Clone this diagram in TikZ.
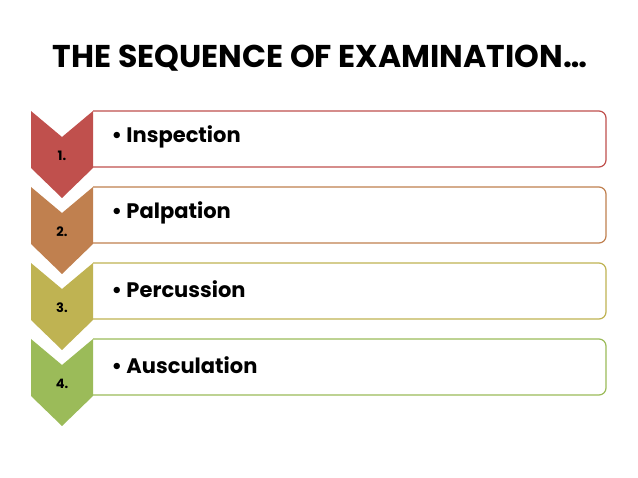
\documentclass[tikz,border=0pt]{standalone}
\usepackage{fontspec}
\setmainfont{Poppins}
\begin{document}
\begin{tikzpicture}[x=1pt,y=-1pt,
  itemtext/.style={anchor=west,font=\bfseries\fontsize{21}{24}\selectfont},
  numtext/.style={font=\bfseries\fontsize{13}{15}\selectfont}]
\useasboundingbox (0,0) rectangle (638,478);
\node[font=\bfseries\fontsize{30}{34}\selectfont,scale=1.05] (title) at (320,58) {THE SEQUENCE OF EXAMINATION\ldots};
\definecolor{c1}{HTML}{C0504D}
\definecolor{c2}{HTML}{C0804F}
\definecolor{c3}{HTML}{BFB352}
\definecolor{c4}{HTML}{9BBB59}
\foreach \i/\c/\lab/\n in {0/c1/Inspection/1,1/c2/Palpation/2,2/c3/Percussion/3,3/c4/Ausculation/4}{
  \pgfmathsetmacro{\y}{111+76*\i}
  \draw[\c, line width=1.2pt, fill=white, rounded corners=7pt]
    (93,\y) -- (606,\y) -- (606,\y+56) -- (93,\y+56);
  \fill[\c] (31,\y) -- (62,\y+26) -- (93,\y) -- (93,\y+57) -- (62,\y+87) -- (31,\y+57) -- cycle;
  \node[itemtext] (item\n) at (108,\y+26) {\textbullet\ \lab};
  \node[numtext] (num\n) at (62,\y+45) {\n.};
}
\end{tikzpicture}
\end{document}
